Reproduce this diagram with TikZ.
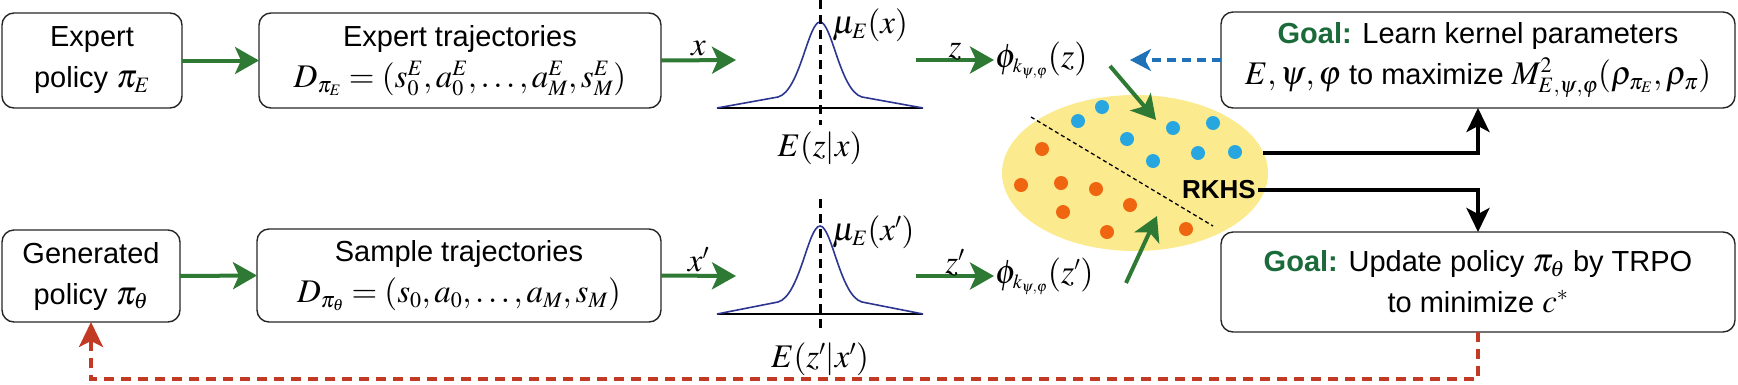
\documentclass[tikz,border=0pt]{standalone}
\usepackage{mathptmx}
\usepackage[no-math]{fontspec}
\setmainfont{Liberation Sans}
\usetikzlibrary{arrows.meta,shapes.geometric}
\DeclareMathSizes{29}{33}{22}{16}
\DeclareMathSizes{28}{34}{20}{14.5}
\definecolor{agreen}{HTML}{2E7A34}
\definecolor{goalgreen}{HTML}{1B6B3A}
\definecolor{ared}{HTML}{C23A24}
\definecolor{ablue}{HTML}{1F72B8}
\definecolor{dotblue}{HTML}{28A6E0}
\definecolor{dotorange}{HTML}{F0650F}
\definecolor{ellyellow}{HTML}{FBEA8E}
\definecolor{gaussblue}{HTML}{2C3590}
\begin{document}
\begin{tikzpicture}[x=1pt,y=-1pt,
  box/.style={draw=black!85, line width=1.4pt, rounded corners=12pt, align=center, inner sep=0pt, outer sep=0pt, font=\fontsize{29}{41}\selectfont},
  lab/.style={inner sep=1pt, font=\fontsize{29}{34}\selectfont},
  philab/.style={inner sep=1pt, font=\fontsize{28}{34}\selectfont},
  garrow/.style={draw=agreen, line width=4pt, -{Stealth[length=24pt,width=27pt,inset=6pt]}},
  karrow/.style={draw=black, line width=3.8pt, -{Stealth[length=24pt,width=23pt,inset=6pt]}},
  rarrow/.style={draw=ared, line width=3.4pt, dash pattern=on 10pt off 7pt, -{Stealth[length=25pt,width=24pt,inset=6pt]}},
  barrow/.style={draw=ablue, line width=3.2pt, dash pattern=on 9pt off 6pt, -{Stealth[length=21pt,width=22pt,inset=6pt]}},
  gauss/.style={draw=gaussblue, line width=1.6pt},
  vdash/.style={draw=black, line width=3pt, dash pattern=on 9pt off 6pt},
  bdot/.style={fill=dotblue},
  odot/.style={fill=dotorange}
]
\useasboundingbox (0,0) rectangle (1738,384);

% boxes
\node[box, minimum width=180pt, minimum height=95pt] (b1t) at (92,60.5) {Expert\\ policy $\pi_E$};
\node[box, minimum width=402pt, minimum height=95pt] (b2t) at (460,60.5) {Expert trajectories\\ $D_{\pi_E}=(s_0^E,a_0^E,\ldots,a_M^E,s_M^E)$};
\node[box, minimum width=178pt, minimum height=92pt] (b1b) at (91,276) {Generated\\ policy $\pi_\theta$};
\node[box, minimum width=404pt, minimum height=93pt] (b2b) at (459,275.5) {Sample trajectories\\ $D_{\pi_\theta}=(s_0,a_0,\ldots,a_M,s_M)$};
\node[box, minimum width=514pt, minimum height=96pt] (gtop) at (1478,60) {{\bfseries\color{goalgreen}Goal:} Learn kernel parameters\\ $E,\psi,\varphi$ to maximize $M^2_{E,\psi,\varphi}(\rho_{\pi_E},\rho_\pi)$};
\node[box, minimum width=514pt, minimum height=100pt] (gbot) at (1478,282) {{\bfseries\color{goalgreen}Goal:} Update policy $\pi_\theta$ by TRPO\\ to minimize $c^*$};

% gaussians
\draw[line width=1.3pt] (717,108) -- (923,108);
\draw[gauss] (717,108) -- (778,97) .. controls (800,91) and (808,22) .. (820,22) .. controls (832,22) and (840,91) .. (862,97) -- (923,108);
\draw[vdash] (820,0) -- (820,125);
\draw[line width=1.3pt] (717,314) -- (923,314);
\draw[gauss] (717,314) -- (778,302) .. controls (800,296) and (808,226) .. (820,226) .. controls (832,226) and (840,296) .. (862,302) -- (923,314);
\draw[vdash] (820,199) -- (820,331);

\node[lab, anchor=west] (mu1) at (831,25) {$\mu_E(x)$};
\node[lab] (ez1) at (820,148) {$E(z|x)$};
\node[lab, anchor=west] (mu2) at (831,232) {$\mu_E(x')$};
\node[lab] (ez2) at (820,359) {$E(z'|x')$};

% phi nodes
\node[philab, anchor=west] (phi1) at (994,60) {$\phi_{k_{\psi,\varphi}}(z)$};
\node[philab, anchor=west] (phi2) at (994,276) {$\phi_{k_{\psi,\varphi}}(z')$};

% coordinates
\coordinate (g1in) at (736,60);
\coordinate (g2in) at (736,276);
\coordinate (g1out) at (916,60);
\coordinate (g2out) at (916,276);
\coordinate (bt) at (1130,60);
\coordinate (p1) at (1110,66);
\coordinate (t1) at (1156,120);
\coordinate (p2) at (1126,283);
\coordinate (t2) at (1157,216);

% ellipse
\node[ellipse, fill=ellyellow, minimum width=266pt, minimum height=156pt, inner sep=0pt, outer sep=0pt] (ell) at (1135,173) {};
\draw[line width=1.3pt, dash pattern=on 4pt off 3pt] (1031,117) -- (1213,226);
\foreach \p in {(1102,107),(1078,121),(1127,139),(1173,128),(1213,123),(1153,161),(1198,153),(1235,152)}
  \fill[bdot] \p circle (7pt);
\foreach \p in {(1042,149),(1021,185),(1061,183),(1096,189),(1063,212),(1130,205),(1107,232),(1186,229)}
  \fill[odot] \p circle (7pt);
\node[inner sep=2pt, font=\fontsize{26}{30}\selectfont\bfseries] (rkhs) at (1219,190) {RKHS};

% connectors
\draw[garrow] (b1t.east) -- (b2t.west);
\draw[garrow] (b1b.east) -- (b2b.west);
\draw[garrow] (b2t.east) -- node[lab, above=1pt] (xl) {$x$} (g1in);
\draw[garrow] (b2b.east) -- node[lab, above=1pt] (xl2) {$x'$} (g2in);
\draw[garrow] (g1out) -- node[lab, above=-3pt] (zl) {$z$} (phi1.west);
\draw[garrow] (g2out) -- node[lab, above=-3pt] (zl2) {$z'$} (phi2.west);
\draw[garrow] (p1) -- (t1);
\draw[garrow] (p2) -- (t2);
\draw[barrow] (gtop.west) -- (bt);
\draw[karrow] (ell.9) -| (gtop.south);
\draw[karrow] (rkhs.east) -| (gbot.north);
\draw[rarrow] (gbot.south) -- ++(0,47) -| (b1b.south);
\end{tikzpicture}
\end{document}
